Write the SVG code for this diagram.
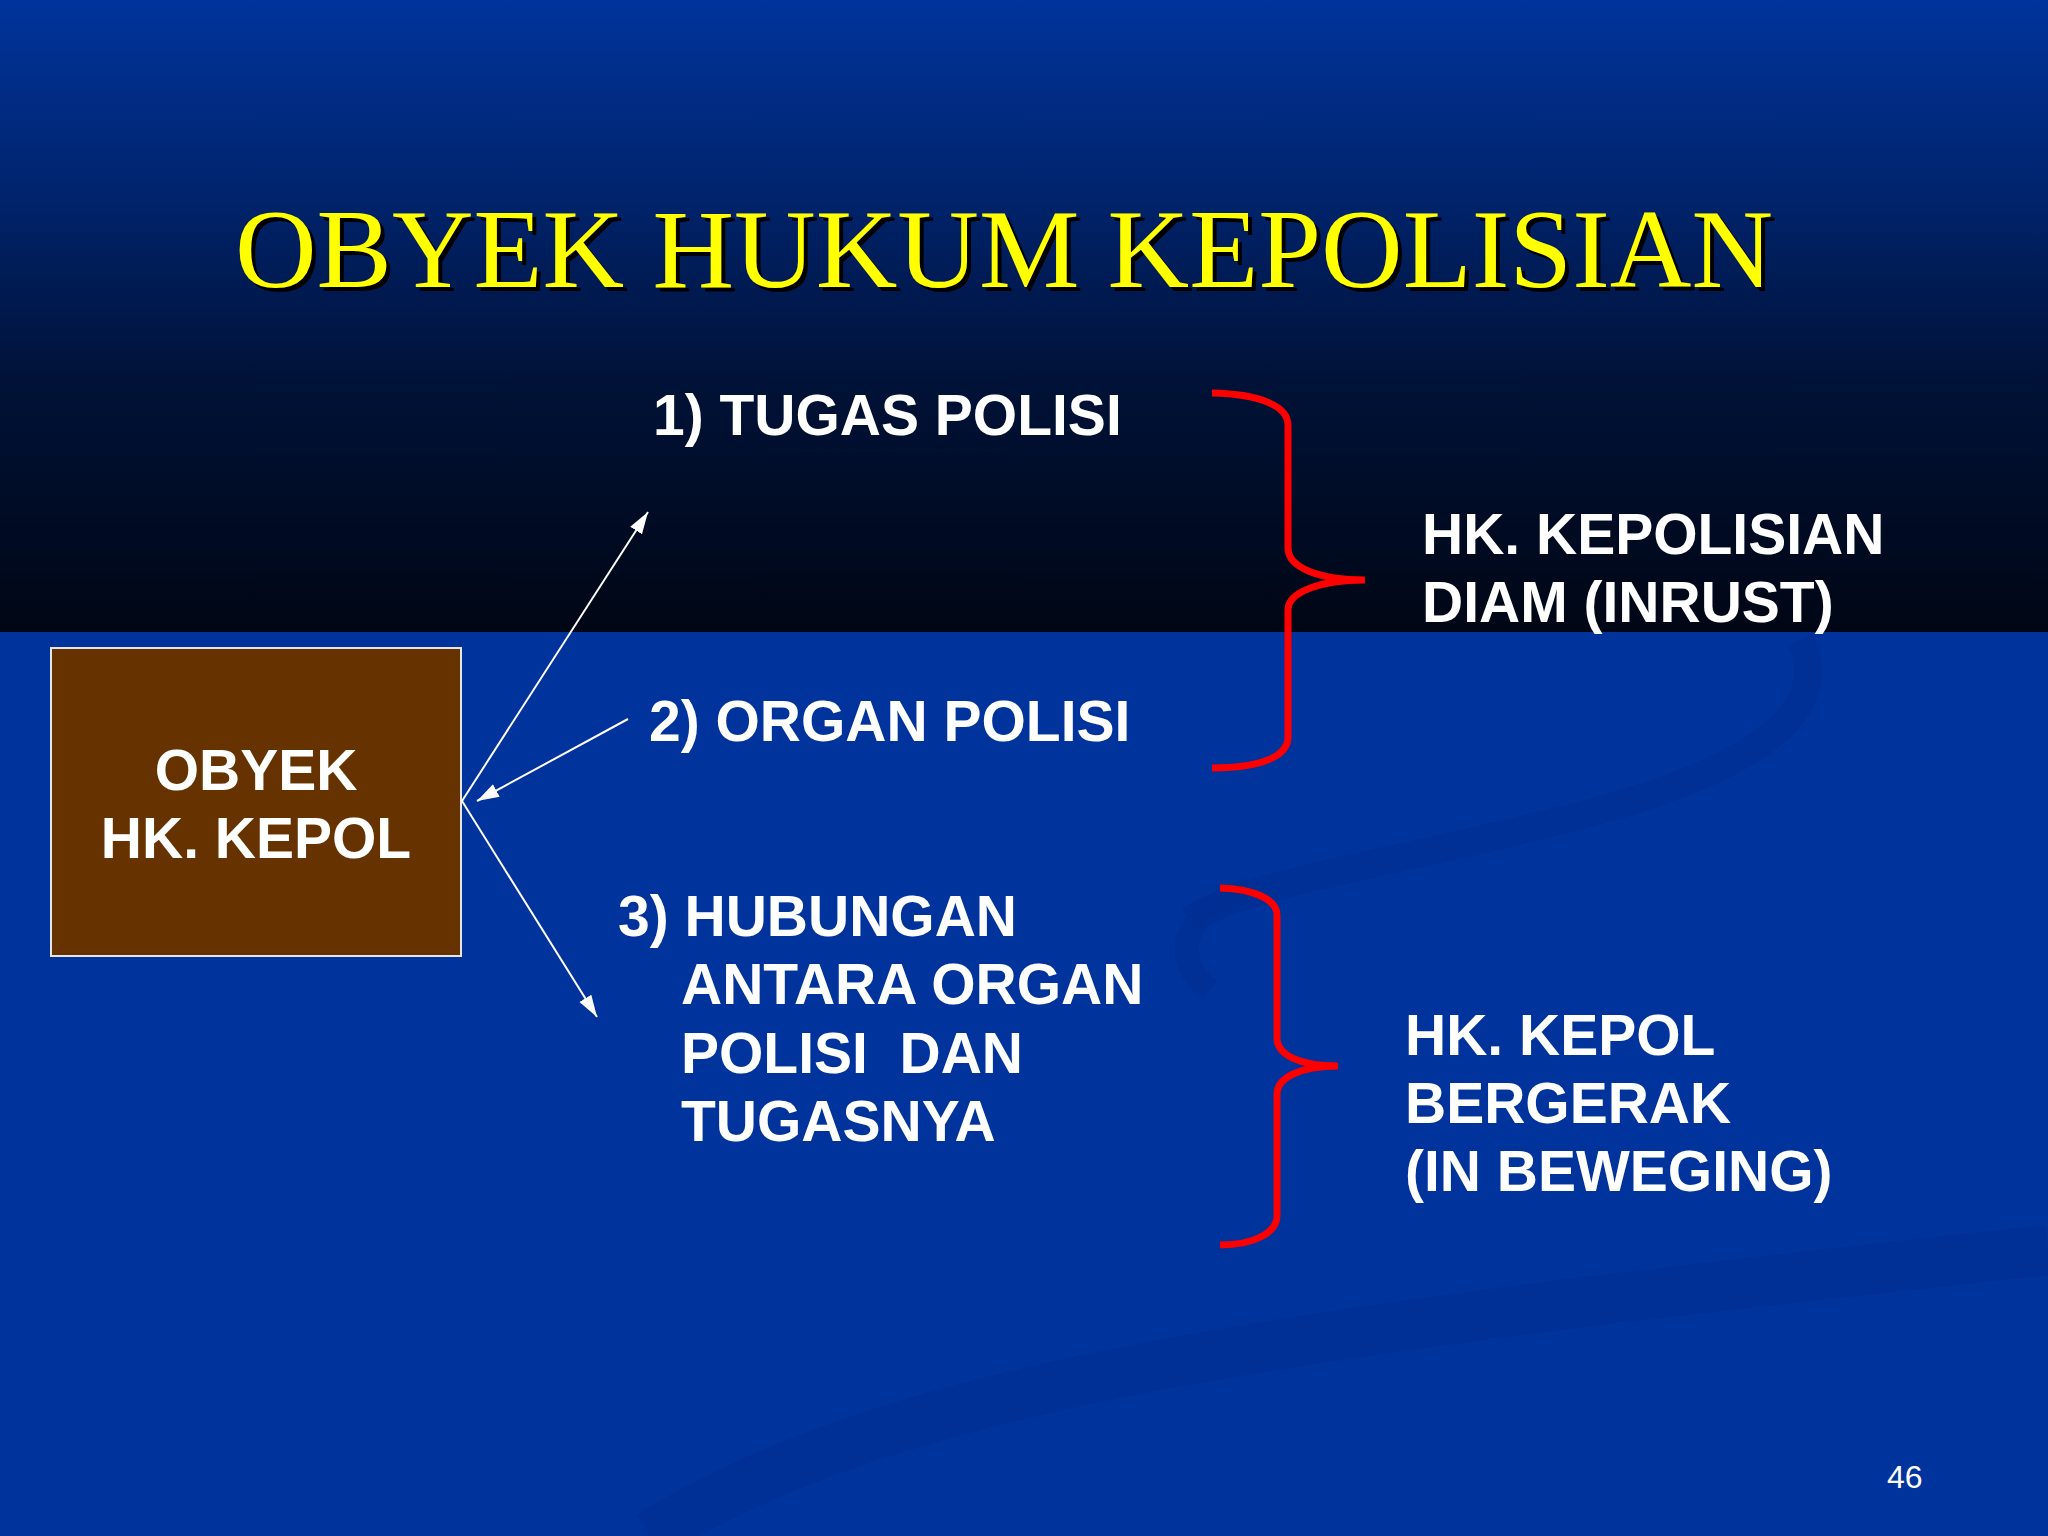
<svg xmlns="http://www.w3.org/2000/svg" width="2048" height="1536" viewBox="0 0 2048 1536">
<defs>
<linearGradient id="topbg" x1="0" y1="0" x2="0" y2="1">
<stop offset="0" stop-color="#00349c"/>
<stop offset="0.3" stop-color="#00246e"/>
<stop offset="0.6" stop-color="#001238"/>
<stop offset="1" stop-color="#000614"/>
</linearGradient>
<marker id="ah" markerUnits="userSpaceOnUse" markerWidth="24" markerHeight="18" refX="22" refY="9" orient="auto">
<path d="M0,2 L22,9 L0,16 Z" fill="#ffffff"/>
</marker>
<style>
.lbl{font-family:"Liberation Sans",Arial,sans-serif;font-weight:bold;font-size:57px;fill:#ffffff}
.brace{fill:none;stroke:#ff0000;stroke-width:7;stroke-linecap:butt}
.conn{stroke:#ffffff;stroke-width:2;fill:none}
.swoosh{fill:none;stroke:#002a80;stroke-opacity:0.2}
</style>
</defs>
<rect x="0" y="0" width="2048" height="1536" fill="#00339c"/>
<g id="background-swoosh">
<path class="swoosh" stroke-width="28" d="M1800,640 C1830,700 1780,760 1600,810 C1420,860 1250,880 1190,920"/>
<path class="swoosh" stroke-width="24" d="M1250,890 C1180,910 1170,960 1210,990"/>
<path class="swoosh" stroke-width="50" d="M650,1536 C900,1380 1300,1330 2048,1250"/>
</g>
<rect x="0" y="0" width="2048" height="632" fill="url(#topbg)"/>
<g id="title">
<text x="239" y="291" font-family="'Liberation Serif','Times New Roman',serif" font-size="113" fill="#000000">OBYEK HUKUM KEPOLISIAN</text>
<text x="235" y="287" font-family="'Liberation Serif','Times New Roman',serif" font-size="113" fill="#ffff00">OBYEK HUKUM KEPOLISIAN</text>
</g>
<g id="node-obyek">
<rect x="51" y="648" width="410" height="308" fill="#663300" stroke="#e6e6e6" stroke-width="2"/>
<text class="lbl" x="256" y="790" text-anchor="middle">OBYEK</text>
<text class="lbl" x="256" y="858" text-anchor="middle">HK. KEPOL</text>
</g>
<g id="node-tugas">
<text class="lbl" x="653" y="435">1) TUGAS POLISI</text>
</g>
<g id="node-organ">
<text class="lbl" x="649" y="741">2) ORGAN POLISI</text>
</g>
<g id="node-hubungan">
<text class="lbl" x="618" y="936">3) HUBUNGAN</text>
<text class="lbl" x="681" y="1004">ANTARA ORGAN</text>
<text class="lbl" x="681" y="1073" xml:space="preserve">POLISI  DAN</text>
<text class="lbl" x="681" y="1141">TUGASNYA</text>
</g>
<g id="node-diam">
<text class="lbl" x="1422" y="554">HK. KEPOLISIAN</text>
<text class="lbl" x="1422" y="622">DIAM (INRUST)</text>
</g>
<g id="node-bergerak">
<text class="lbl" x="1405" y="1055">HK. KEPOL</text>
<text class="lbl" x="1405" y="1123">BERGERAK</text>
<text class="lbl" x="1405" y="1191">(IN BEWEGING)</text>
</g>
<g id="connectors">
<line class="conn" x1="462" y1="801" x2="648" y2="512" marker-end="url(#ah)"/>
<line class="conn" x1="462" y1="801" x2="597" y2="1017" marker-end="url(#ah)"/>
<line class="conn" x1="628" y1="719" x2="477" y2="801" marker-end="url(#ah)"/>
<path class="brace" d="M1212,393 C1262,394 1288,407 1288,425 L1288,548 C1288,568 1320,580 1365,580 C1320,580 1288,592 1288,610 L1288,737 C1288,756 1262,768 1212,768"/>
<path class="brace" d="M1220,888 C1255,889 1277,900 1277,915 L1277,1038 C1277,1055 1300,1066 1338,1066 C1300,1066 1277,1078 1277,1094 L1277,1216 C1277,1232 1255,1245 1220,1245"/>
</g>
<text x="1887" y="1488" font-family="'Liberation Sans',Arial,sans-serif" font-size="32" fill="#ffffff">46</text>
</svg>
